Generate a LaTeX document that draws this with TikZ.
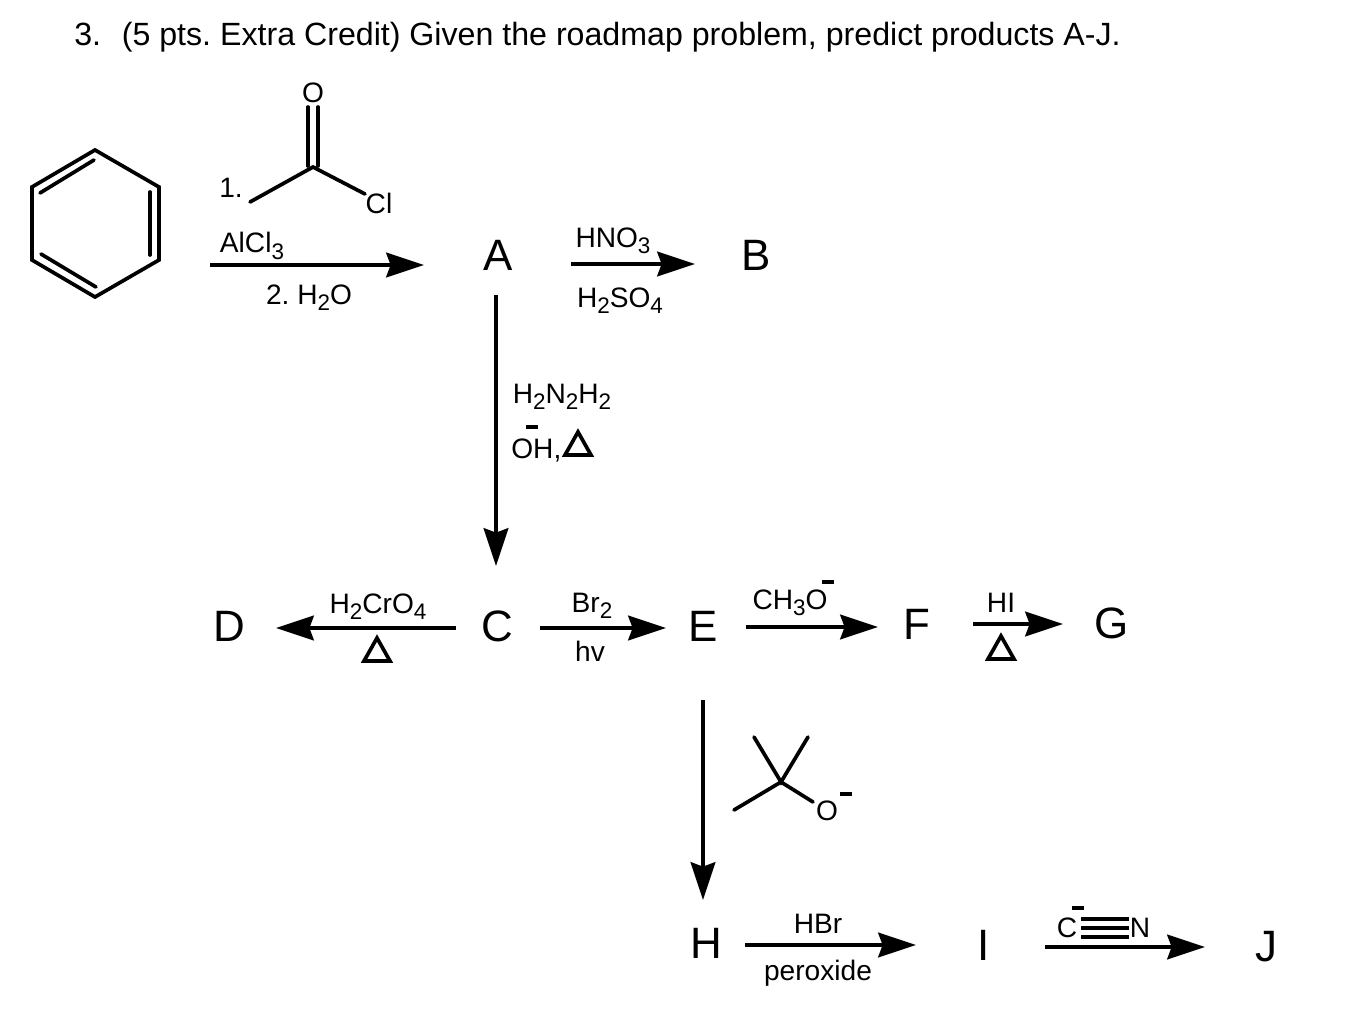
\documentclass[tikz,border=0pt]{standalone}
\usepackage{fontspec}
\setmainfont{Liberation Sans}
\usetikzlibrary{arrows.meta}
\newcommand{\lowsub}[1]{\raisebox{-0.42ex}{\fontsize{12.8}{14}\selectfont #1}}
\tikzset{
  bond/.style={line width=2.1pt, line cap=round, line join=miter},
  rxnarrow/.style={line width=2.1pt, -{Stealth[length=21.5pt, width=14pt, inset=2.5pt]}},
  product/.style={inner sep=0pt, font=\fontsize{25}{30}\selectfont},
  reagent/.style={inner sep=0pt, font=\fontsize{16}{18}\selectfont},
  minusbar/.style={line width=1.8pt}
}
\begin{document}
\frenchspacing
\begin{tikzpicture}[x=0.02cm, y=-0.02cm]
            \useasboundingbox (0,0) rectangle (1352,1014);
            \node (title) [anchor=west, inner sep=0pt, font=\fontsize{18.3}{21}\selectfont] at (74,37) {3.\ \ \hspace{1.6pt}(5 pts. Extra Credit) Given the roadmap problem, predict products A-J.};
            % benzene
            \draw [bond] (95,150) -- (159,187) -- (159,260) -- (95,297) -- (32,260) -- (32,187) -- cycle;
            \draw [bond] (40,193) -- (94,160);
            \draw [bond] (150,192) -- (150,255);
            \draw [bond] (41,254) -- (96,287);
            % acid chloride
            \node (oxo) [reagent] at (313,93) {O};
            \node (cl) [reagent] at (379,203) {Cl};
            \node (one) [reagent] at (231,188) {1.};
            \draw [bond] (250,202) -- (313,167) -- (365,194);
            \draw [bond] (308,107) -- (308,166);
            \draw [bond] (318,107) -- (318,166);
            % products
            \node (A) [product] at (498,255) {A};
            \node (B) [product] at (756,255) {B};
            \node (C) [product] at (497,626) {C};
            \node (D) [product] at (229,626) {D};
            \node (E) [product] at (703,626) {E};
            \node (F) [product] at (917,624) {F};
            \node (G) [product] at (1112,623) {G};
            \node (H) [product] at (706,943) {H};
            \node (I) [product] at (984,945) {I};
            \node (J) [product] at (1266,947) {J};
            % arrows
            \coordinate (acylstart) at (210,265);
            \draw [rxnarrow] (acylstart) -- ([shift={(-74,10)}]A.center);
            \draw [rxnarrow] ([shift={(73,9)}]A.center) -- ([shift={(-61,9)}]B.center);
            \draw [rxnarrow] ([shift={(-2,40)}]A.center) -- ([shift={(-1,-60)}]C.center);
            \draw [rxnarrow] ([shift={(-41,2)}]C.center) -- ([shift={(47,2)}]D.center);
            \draw [rxnarrow] ([shift={(43,2)}]C.center) -- ([shift={(-37,2)}]E.center);
            \draw [rxnarrow] ([shift={(43,1)}]E.center) -- ([shift={(-39,3)}]F.center);
            \draw [rxnarrow] ([shift={(56,0)}]F.center) -- ([shift={(-49,1)}]G.center);
            \draw [rxnarrow] ([shift={(0,74)}]E.center) -- ([shift={(-3,-43)}]H.center);
            \draw [rxnarrow] ([shift={(39,2)}]H.center) -- ([shift={(-68,0)}]I.center);
            \draw [rxnarrow] ([shift={(61,2)}]I.center) -- ([shift={(-61,0)}]J.center);
            % reagents
            \node (alcl) [reagent] at (252,246) {AlCl\lowsub{3}};
            \node (water) [reagent] at (309,298) {2. H\lowsub{2}O};
            \node (hno) [reagent] at (613,241) {HNO\lowsub{3}};
            \node (hso) [reagent] at (620,301) {H\lowsub{2}SO\lowsub{4}};
            \node (hydrazine) [reagent] at (562,397) {H\lowsub{2}N\lowsub{2}H\lowsub{2}};
            \node (hydroxide) [reagent, anchor=west] at (511,450) {OH,};
            \node (chromic) [reagent] at (378,607) {H\lowsub{2}CrO\lowsub{4}};
            \node (bromine) [reagent] at (592,606) {Br\lowsub{2}};
            \node (hv) [reagent] at (590,651) {hv};
            \node (methoxide) [reagent] at (790,603) {CH\lowsub{3}O};
            \node (hi) [reagent] at (1001,603) {HI};
            \node (hbr) [reagent] at (818,924) {HBr};
            \node (peroxide) [reagent] at (818,973) {peroxide};
            \node (cyanc) [reagent] at (1067,928) {C};
            \node (cyann) [reagent] at (1140,928) {N};
            \node (oxide) [reagent] at (827,811) {O};
            % heat triangles
            \foreach \x/\y in {578/432, 377/638, 1001/636}
                \draw [bond] (\x,\y) -- ++(-13,23) -- ++(26,0) -- cycle;
            % charges
            \foreach \x/\y in {526/427, 822/582, 1072/908, 840/794}
                \draw [minusbar] (\x,\y) -- ++(12,0);
            % cyanide triple bond
            \foreach \y in {919,928,937}
                \draw [line width=1.9pt] (1081,\y) -- (1129,\y);
            % tert-butoxide
            \draw [bond] (754,737) -- (781,782) -- (808,737);
            \draw [bond] (734,810) -- (781,782) -- (813,802);
        \end{tikzpicture}
\end{document}
